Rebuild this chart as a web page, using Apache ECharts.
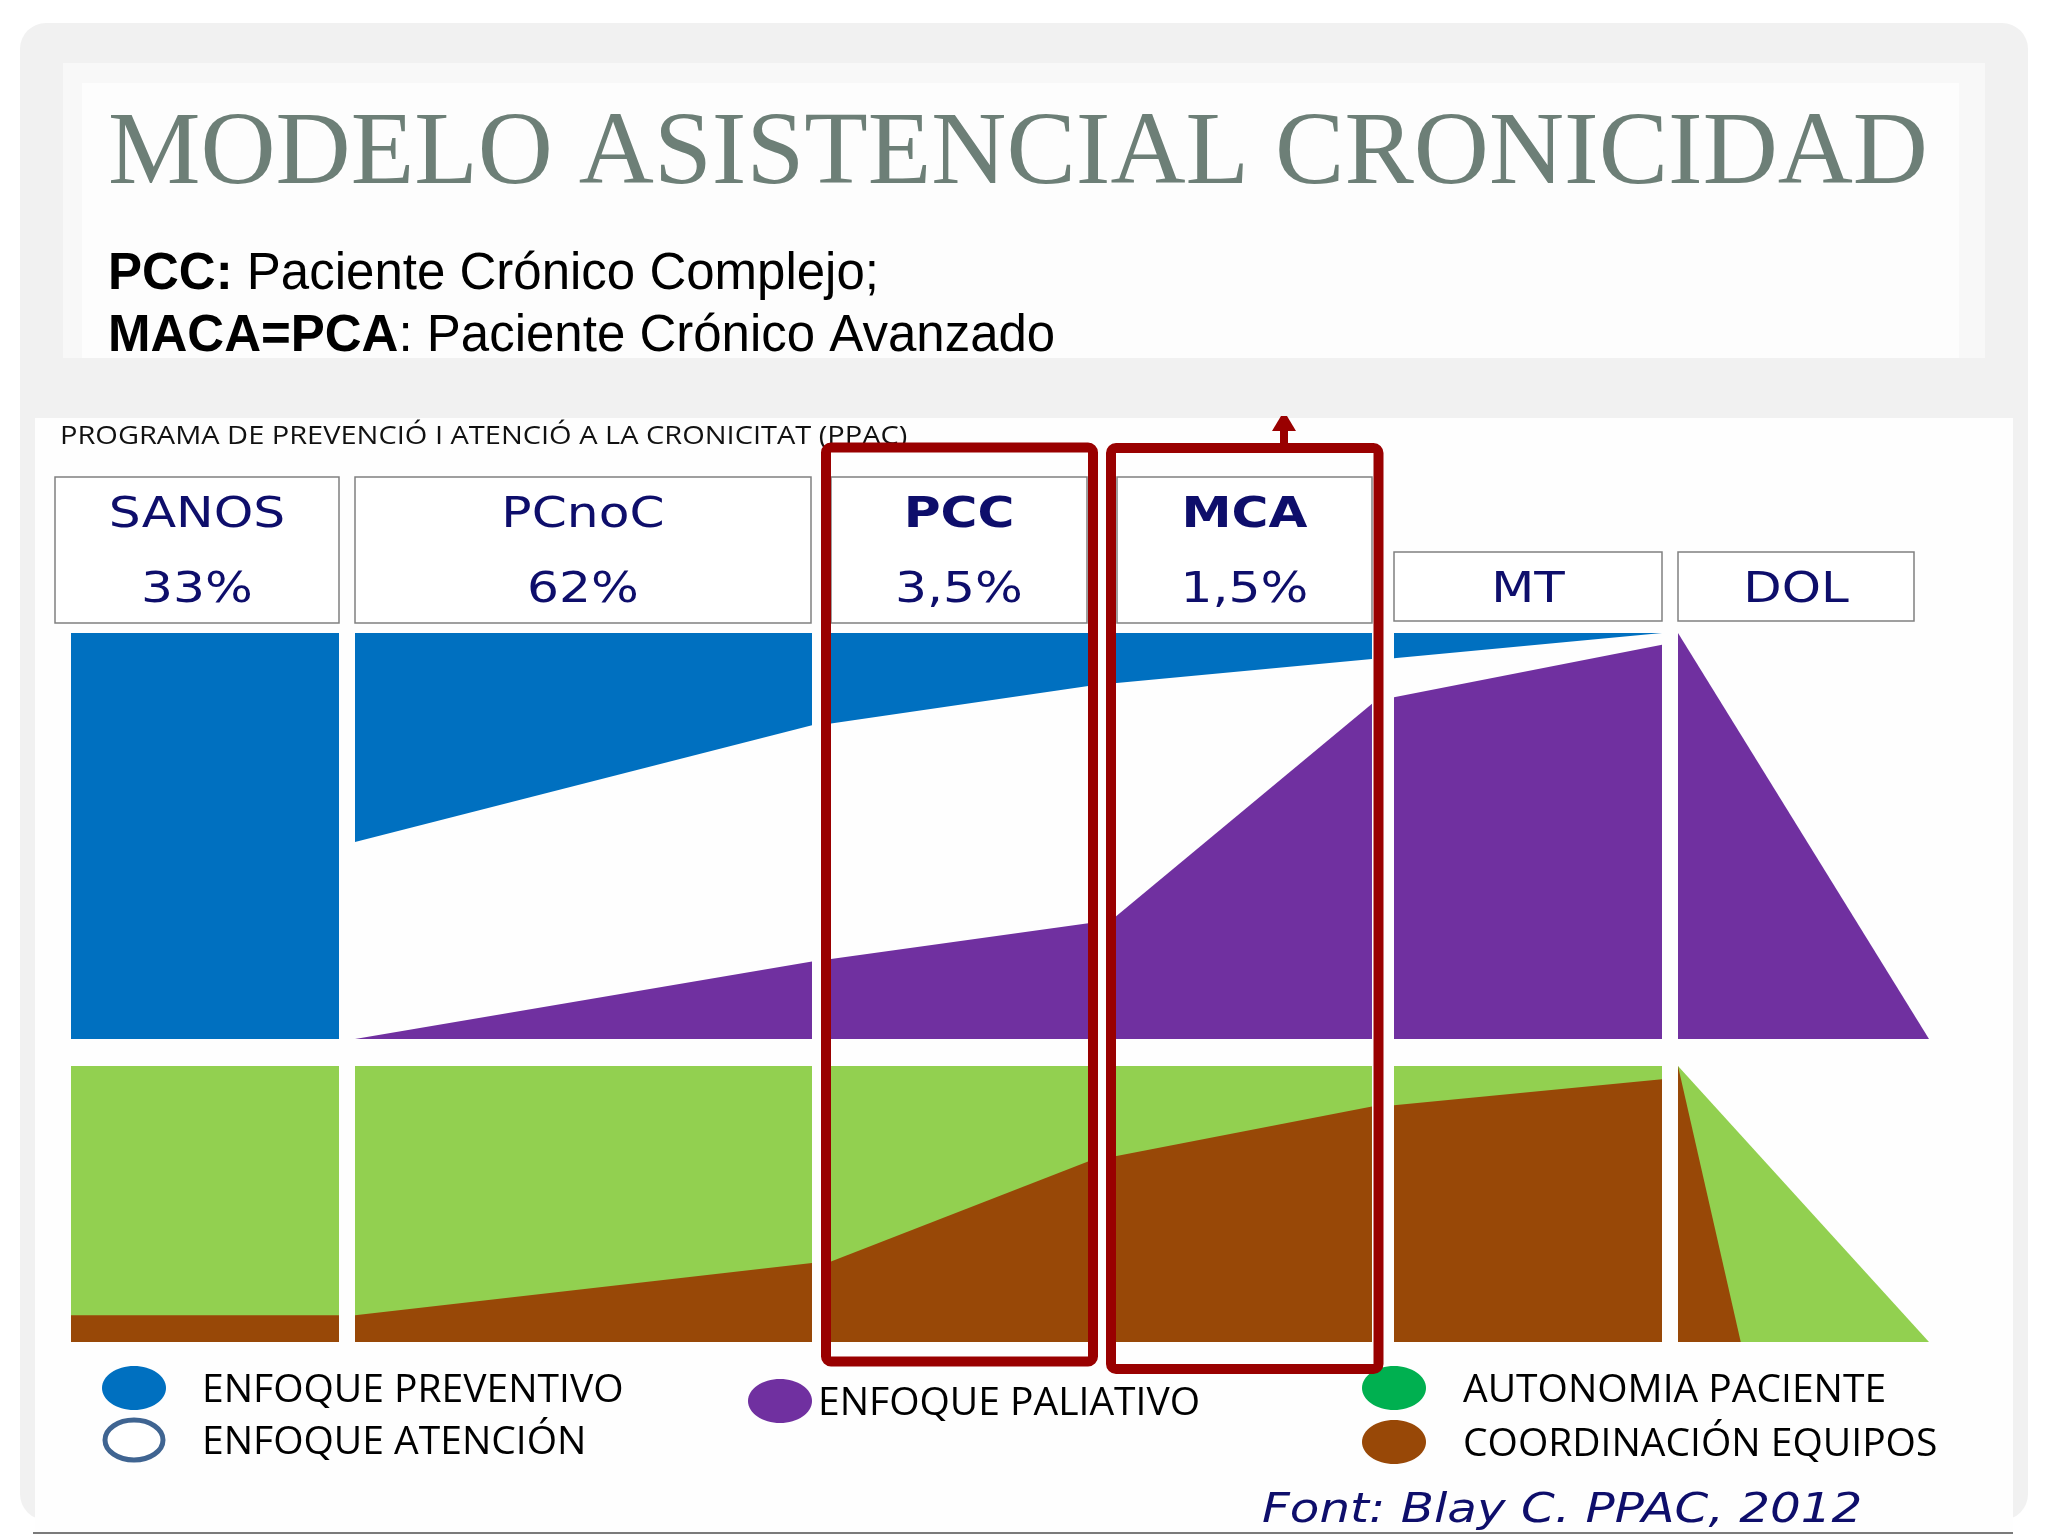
<!DOCTYPE html>
<html>
<head>
<meta charset="utf-8">
<script src="https://cdn.jsdelivr.net/npm/echarts@6/dist/echarts.min.js"></script>
<style>
html,body{margin:0;padding:0;background:#fff;}
#chart{width:2048px;height:1536px;}
</style>
</head>
<body>
<div id="chart"></div>
<script>
// ---- data ----
const categories = ['SANOS', 'PCnoC', 'PCC', 'MCA', 'MT', 'DOL'];
const shares = ['33%', '62%', '3,5%', '1,5%', '', ''];
// top panel (0-100): lower edge of "enfoque preventivo" (blue) [left, right]
const preventivoStart = [[0, 0], [48.5, 77.3], [77.7, 87.0], [87.6, 93.6], [93.8, 100], [100, 100]];
// top panel: upper edge of "enfoque paliativo" (purple) [left, right]
const paliativoTop = [[0, 0], [0, 19.1], [19.7, 28.6], [29.8, 82.6], [84.2, 97.1], [100, 0]];
// bottom panel: upper edge of "autonomia paciente" (green) [left, right]
const autonomiaTop = [[100, 100], [100, 100], [100, 100], [100, 100], [100, 100], [100, 0]];
// bottom panel: upper edge of "coordinación equipos" (brown) [left, right]
const coordinacionTop = [[9.7, 9.7], [9.7, 28.6], [29.2, 65.7], [67.2, 85.3], [85.8, 95.2], [100, 0]];
// share of the column width reached by the brown band
const coordinacionReach = [1, 1, 1, 1, 1, 0.25];
const panelTop = [[100, 100], [100, 100], [100, 100], [100, 100], [100, 100], [100, 100]];
const panelBase = [[0, 0], [0, 0], [0, 0], [0, 0], [0, 0], [0, 0]];
// column extents on the horizontal axis (axis units)
const colSpan = [[0, 268], [284, 741], [760, 1019], [1043, 1301], [1323, 1591], [1607, 1858]];
const legendItems = ['ENFOQUE PREVENTIVO', 'ENFOQUE ATENCIÓN', 'ENFOQUE PALIATIVO', 'AUTONOMIA PACIENTE', 'COORDINACIÓN EQUIPOS'];

// ---- styles ----
const C_BLUE = '#0070c0', C_PURPLE = '#7030a0', C_GREEN = '#92d050', C_BROWN = '#984807';
const C_NAVY = '#0e0e6b', C_RED = '#990000';

const chart = echarts.init(document.getElementById('chart'), null, {renderer: 'canvas'});

function band(name, gi, color, low, high, reach) {
  return {
    type: 'custom', name: name, xAxisIndex: gi, yAxisIndex: gi,
    silent: true, animation: false, clip: false,
    data: categories.map((c, i) => {
      const x0 = colSpan[i][0];
      const x1 = x0 + (colSpan[i][1] - colSpan[i][0]) * (reach ? reach[i] : 1);
      return [x0, x1, low[i][0], low[i][1], high[i][0], high[i][1]];
    }),
    encode: {x: [0, 1], y: [2, 3, 4, 5]},
    renderItem: function (params, api) {
      const x0 = api.value(0), x1 = api.value(1);
      const pts = [
        api.coord([x0, api.value(2)]),
        api.coord([x1, api.value(3)]),
        api.coord([x1, api.value(5)]),
        api.coord([x0, api.value(4)])
      ];
      return {type: 'polygon', shape: {points: pts}, style: {fill: color, stroke: null}};
    }
  };
}

const g = [];
// background frame
g.push({type: 'rect', z: 0, shape: {x: 20, y: 23, width: 2008, height: 1497, r: 26}, style: {fill: '#f1f1f1'}});
g.push({type: 'rect', z: 0, shape: {x: 63, y: 63, width: 1922, height: 295}, style: {fill: '#f8f8f8'}});
g.push({type: 'rect', z: 0, shape: {x: 82, y: 83, width: 1877, height: 275}, style: {fill: '#fdfdfd'}});
g.push({type: 'rect', z: 0, shape: {x: 35, y: 418, width: 1978, height: 1118}, style: {fill: '#fefefe'}});
g.push({type: 'line', z: 1, shape: {x1: 33, y1: 1533, x2: 2013, y2: 1533}, style: {stroke: '#7a7a7a', lineWidth: 2}});

// title and subtitle
g.push({type: 'text', z: 60, x: 108, y: 156, style: {text: 'MODELO ASISTENCIAL CRONICIDAD', font: '104px "Liberation Serif"', fill: '#6d7f77', align: 'left', verticalAlign: 'middle'}});
g.push({type: 'text', z: 60, x: 108, y: 275, style: {
  text: '{b|PCC:} Paciente Crónico Complejo;', font: '51px "Liberation Sans"', fill: '#000', align: 'left', verticalAlign: 'middle',
  rich: {b: {font: 'bold 51px "Liberation Sans"', fill: '#000'}}}});
g.push({type: 'text', z: 60, x: 108, y: 337, style: {
  text: '{b|MACA=PCA}: Paciente Crónico Avanzado', font: '51px "Liberation Sans"', fill: '#000', align: 'left', verticalAlign: 'middle',
  rich: {b: {font: 'bold 51px "Liberation Sans"', fill: '#000'}}}});

g.push({type: 'text', z: 60, x: 60, y: 437, scaleX: 1.115, style: {text: 'PROGRAMA DE PREVENCIÓ I ATENCIÓ A LA CRONICITAT (PPAC)', font: '26px "Open Sans"', fill: '#111', align: 'left', verticalAlign: 'middle'}});

// header boxes
const boxes = [[55, 477, 284, 146], [355, 477, 456, 146], [831, 477, 256, 146], [1117, 477, 255, 146], [1394, 552, 268, 69], [1678, 552, 236, 69]];
boxes.forEach((b, i) => {
  g.push({type: 'rect', z: 20, shape: {x: b[0], y: b[1], width: b[2], height: b[3]}, style: {fill: '#fff', stroke: '#808080', lineWidth: 1.5}});
  const cx = b[0] + b[2] / 2;
  const bold = (i === 2 || i === 3) ? 'bold ' : '';
  if (shares[i]) {
    g.push({type: 'text', z: 60, x: cx, y: 516, scaleX: 1.17, style: {text: categories[i], font: bold + '43px "DejaVu Sans"', fill: C_NAVY, align: 'center', verticalAlign: 'middle'}});
    g.push({type: 'text', z: 60, x: cx, y: 591, scaleX: 1.17, style: {text: shares[i], font: '43px "DejaVu Sans"', fill: C_NAVY, align: 'center', verticalAlign: 'middle'}});
  } else {
    g.push({type: 'text', z: 60, x: cx, y: 591, scaleX: 1.16, style: {text: categories[i], font: '43px "DejaVu Sans"', fill: C_NAVY, align: 'center', verticalAlign: 'middle'}});
  }
});

// red highlight boxes
g.push({type: 'rect', z: 80, shape: {x: 826, y: 447.5, width: 267, height: 914, r: 5}, style: {fill: null, stroke: C_RED, lineWidth: 10}});
g.push({type: 'rect', z: 80, shape: {x: 1111, y: 448, width: 267.5, height: 921, r: 5}, style: {fill: null, stroke: C_RED, lineWidth: 10}});
g.push({type: 'rect', z: 80, shape: {x: 1280, y: 428, width: 8, height: 20}, style: {fill: C_RED}});
g.push({type: 'polygon', z: 80, shape: {points: [[1272, 431], [1296, 431], [1287, 416], [1281, 416]]}, style: {fill: C_RED}});

// legend
const legendPos = [[134, 1388, 202], [134, 1440, 202], [780, 1401, 818], [1394, 1388, 1463], [1394, 1442, 1463]];
const legendFill = [C_BLUE, null, C_PURPLE, '#00b050', C_BROWN];
legendItems.forEach((t, i) => {
  const p = legendPos[i];
  g.push({type: 'ellipse', z: 60, shape: {cx: p[0], cy: p[1], rx: legendFill[i] ? 32 : 29, ry: legendFill[i] ? 22 : 20},
    style: legendFill[i] ? {fill: legendFill[i]} : {fill: '#fff', stroke: '#3f6491', lineWidth: 5}});
  g.push({type: 'text', z: 60, x: p[2], y: p[1] + 3, style: {text: t, font: '39px "Open Sans"', fill: '#000', align: 'left', verticalAlign: 'middle'}});
});
g.push({type: 'text', z: 60, x: 1262, y: 1511, scaleX: 1.18, style: {text: 'Font: Blay C. PPAC, 2012', font: 'italic 41px "DejaVu Sans"', fill: C_NAVY, align: 'left', verticalAlign: 'middle'}});

const hiddenAxis = (max) => ({type: 'value', min: 0, max: max, show: false, splitLine: {show: false}});

chart.setOption({
  backgroundColor: '#ffffff',
  animation: false,
  grid: [
    {left: 71, top: 633, width: 1858, height: 406},
    {left: 71, top: 1066, width: 1858, height: 276}
  ],
  xAxis: [Object.assign(hiddenAxis(1858), {gridIndex: 0}), Object.assign(hiddenAxis(1858), {gridIndex: 1})],
  yAxis: [Object.assign(hiddenAxis(100), {gridIndex: 0}), Object.assign(hiddenAxis(100), {gridIndex: 1})],
  series: [
    band('Enfoque preventivo', 0, C_BLUE, preventivoStart, panelTop),
    band('Enfoque paliativo', 0, C_PURPLE, panelBase, paliativoTop),
    band('Autonomia paciente', 1, C_GREEN, panelBase, autonomiaTop),
    band('Coordinación equipos', 1, C_BROWN, panelBase, coordinacionTop, coordinacionReach)
  ],
  graphic: {elements: g}
});
</script>
</body>
</html>
